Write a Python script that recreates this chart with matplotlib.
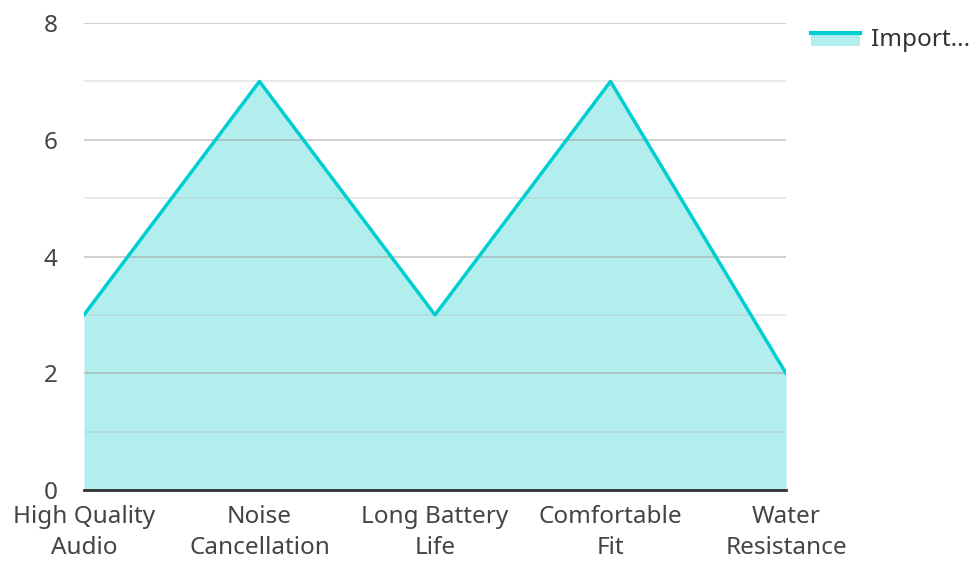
import matplotlib.pyplot as plt
from matplotlib.lines import Line2D
from matplotlib.patches import Rectangle
from matplotlib.legend_handler import HandlerBase

categories = ["High Quality\nAudio", "Noise\nCancellation", "Long Battery\nLife",
              "Comfortable\nFit", "Water\nResistance"]
importance = [3, 7, 3, 7, 2]
series_name = "Import..."

LINE = "#00CED1"
FILL = "#B2EEEE"
FS = 17.5

plt.rcParams["font.family"] = ["Noto Sans", "DejaVu Sans"]


class AreaHandler(HandlerBase):
    # legend key: filled box with the series line along its top edge
    def create_artists(self, legend, orig_handle, xdescent, ydescent,
                       width, height, fontsize, trans):
        box = Rectangle((-xdescent, -ydescent), width, height * 0.75,
                        facecolor=FILL, edgecolor="none", transform=trans)
        top = -ydescent + height * 0.75
        line = Line2D([-xdescent, -xdescent + width], [top, top],
                      color=LINE, linewidth=3, transform=trans)
        return [box, line]


fig = plt.figure(figsize=(9.73, 5.62), dpi=100)
ax = fig.add_axes([0.0863, 0.1281, 0.7215, 0.8309])

xs = list(range(len(categories)))
ax.fill_between(xs, importance, 0, color=FILL, zorder=1, linewidth=0)
ax.plot(xs, importance, color=LINE, linewidth=2.5, zorder=3)

ax.set_xlim(0, len(categories) - 1)
ax.set_ylim(0, 8)
ax.set_yticks([0, 2, 4, 6, 8])
ax.set_yticks([1, 3, 5, 7], minor=True)
ax.set_xticks(xs)
ax.set_xticklabels(categories, linespacing=1.38)

# gridlines show through the translucent fill
ax.grid(axis="y", which="major", color="#9a9a9a", alpha=0.55, linewidth=1.2, zorder=2)
ax.grid(axis="y", which="minor", color="#b8b8b8", alpha=0.35, linewidth=1.2, zorder=2)
ax.set_axisbelow(False)

for side in ["top", "right", "left"]:
    ax.spines[side].set_visible(False)
ax.spines["bottom"].set_color("#333333")
ax.spines["bottom"].set_linewidth(2)
ax.spines["bottom"].set_zorder(4)

ax.tick_params(axis="both", which="both", length=0, labelsize=FS, colors="#444444")
ax.tick_params(axis="y", pad=19)
ax.tick_params(axis="x", pad=11)

leg = fig.legend([object()], [series_name], loc="upper left",
                 bbox_to_anchor=(0.826, 0.964), frameon=False, fontsize=FS,
                 handler_map={object: AreaHandler()},
                 handlelength=2.0, handleheight=0.7, handletextpad=0.45,
                 borderaxespad=0, borderpad=0.3)
for t in leg.get_texts():
    t.set_color("#333333")

fig.savefig("out.png", dpi=100)
